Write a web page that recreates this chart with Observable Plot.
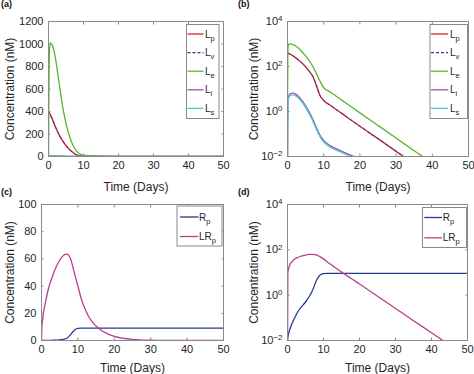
<!DOCTYPE html>
<html>
<head>
<meta charset="utf-8">
<script src="https://cdn.jsdelivr.net/npm/d3@7"></script>
<script src="https://cdn.jsdelivr.net/npm/@observablehq/plot@0.6"></script>
<style>
  body { margin: 0; background: #fff; }
  #fig { position: relative; width: 474px; height: 374px; overflow: hidden;
         font-family: "Liberation Sans", Arial, sans-serif; color: #262626; }
  .panel { position: absolute; }
  .panel svg { display: block; }
</style>
</head>
<body>
<div id="fig"></div>
<script>
// ---- tick values ----
const dayTicks = [0, 10, 20, 30, 40, 50];
const ligandLinTicks = [0, 200, 400, 600, 800, 1000, 1200];
const receptorLinTicks = [0, 20, 40, 60, 80, 100];
const logTicks = [1e-2, 1, 1e2, 1e4];

// ---- ligand concentrations (nM) over time (days) ----
const tLig = [0, 0.1, 0.3, 0.6, 1, 1.5, 2, 3, 4, 5, 6, 7, 8, 9, 10, 12, 15, 20, 25, 30, 35, 40, 45, 50];
const Lp = [400, 395, 385, 365, 340, 300, 262, 195, 142, 98, 62, 36, 14, 5.0, 3.1, 1.8, 0.82, 0.22, 0.062, 0.017, 0.0047, 0.0013, 0.00036, 0.0001];
const Lv = [400, 395, 385, 365, 340, 300, 262, 195, 142, 98, 62, 36, 14, 5.0, 3.1, 1.8, 0.82, 0.22, 0.062, 0.017, 0.0047, 0.0013, 0.00036, 0.0001];
const Le = [0.5, 500, 950, 1010, 995, 950, 870, 660, 450, 295, 180, 100, 48, 22, 11.5, 7.0, 3.2, 0.87, 0.24, 0.066, 0.018, 0.005, 0.0014, 0.0004];
const Li = [0.001, 2.5, 4.5, 5.8, 6.4, 6.5, 6.2, 4.8, 3.1, 1.8, 0.95, 0.45, 0.19, 0.088, 0.052, 0.029, 0.017, 0.0078, 0.004, 0.002, 0.001, 0.0005, 0.00025, 0.00012];
const Ls = [0.001, 2.1, 3.8, 4.9, 5.4, 5.5, 5.2, 4.0, 2.6, 1.5, 0.78, 0.37, 0.16, 0.074, 0.044, 0.025, 0.015, 0.0068, 0.0035, 0.0018, 0.0009, 0.00045, 0.00022, 0.0001];

// ---- receptor / complex concentrations (nM) ----
const tRec = [0, 0.1, 0.3, 0.7, 1, 2, 3, 4, 5, 6, 7, 8, 9, 10, 11, 12, 13, 14, 16, 18, 20, 25, 30, 35, 40, 45, 50];
const Rp = [0.01, 0.014, 0.02, 0.033, 0.045, 0.1, 0.2, 0.32, 0.5, 0.85, 1.7, 4.3, 7.6, 8.9, 9.1, 9.1, 9.1, 9.1, 9.1, 9.1, 9.1, 9.1, 9.1, 9.1, 9.1, 9.1, 9.1];
const LRp = [0.001, 10, 15, 23, 27, 39, 47, 54, 59, 62.5, 63.5, 60, 50, 40, 30, 23, 17.5, 13.5, 8.2, 5.0, 3.1, 0.9, 0.26, 0.075, 0.022, 0.0064, 0.0019];

const ligandSeries = [
  {name: "L", sub: "p", t: tLig, v: Lp, color: "#d8262b", width: 1.4},
  {name: "L", sub: "v", t: tLig, v: Lv, color: "#2b3a8f", width: 1, dash: "2.5,3"},
  {name: "L", sub: "e", t: tLig, v: Le, color: "#5ab52c", width: 1.3},
  {name: "L", sub: "i", t: tLig, v: Li, color: "#a34fae", width: 1.3},
  {name: "L", sub: "s", t: tLig, v: Ls, color: "#48cccc", width: 1.3}
];
const receptorSeries = [
  {name: "R", sub: "p", t: tRec, v: Rp, color: "#243a91", width: 1.3},
  {name: "LR", sub: "p", t: tRec, v: LRp, color: "#b83e8e", width: 1.3}
];

const FRAME = "#8a8a8a";
const TICK = 2.5;

function panel({left, top, series, log, yMax, yTicks, m, xLabelDy, yLabelDx}) {
  const rowsOf = s => s.t.map((t, i) => ({t, v: s.v[i]}));
  const yScale = log
    ? {type: "log", domain: [1e-2, 1e4], ticks: logTicks}
    : {domain: [0, yMax], ticks: yTicks};
  const fmtY = log ? (d => "10^" + Math.round(Math.log10(d))) : (d => String(d));
  const chart = Plot.plot({
    width: 237, height: 187,
    marginLeft: m[0], marginRight: m[1], marginTop: m[2], marginBottom: m[3],
    style: {background: "transparent", overflow: "visible",
            fontFamily: "'Liberation Sans', Arial, sans-serif", fontSize: "11px", color: "#262626"},
    x: {domain: [0, 50], ticks: dayTicks},
    y: yScale,
    marks: [
      ...series.map(s => Plot.line(rowsOf(s), {
        x: "t", y: "v", stroke: s.color, strokeWidth: s.width,
        strokeDasharray: s.dash, curve: "monotone-x", clip: true
      })),
      Plot.frame({stroke: FRAME}),
      Plot.axisX({ticks: dayTicks, tickSize: -TICK, tickPadding: 5 + TICK, stroke: FRAME,
                  tickFormat: d => String(d), label: null}),
      Plot.axisX({anchor: "top", ticks: dayTicks, tickSize: -TICK, stroke: FRAME,
                  tickFormat: () => "", label: null}),
      Plot.axisY({ticks: log ? logTicks : yTicks, tickSize: -TICK, tickPadding: 5 + TICK,
                  stroke: FRAME, tickFormat: fmtY, label: null}),
      Plot.axisY({anchor: "right", ticks: log ? logTicks : yTicks, tickSize: -TICK, stroke: FRAME,
                  tickFormat: () => "", label: null}),
      Plot.text(["Time (Days)"], {frameAnchor: "bottom", dy: xLabelDy, lineAnchor: "bottom",
                                  textAnchor: "middle", fontSize: 12, fill: "#262626"}),
      Plot.text(["Concentration (nM)"], {frameAnchor: "left", rotate: -90, dx: -yLabelDx,
                                         lineAnchor: "top", textAnchor: "middle",
                                         fontSize: 12, fill: "#262626"})
    ]
  });
  // power-of-ten labels with raised exponents
  if (log) {
    chart.querySelectorAll('g[aria-label="y-axis tick label"] text').forEach(el => {
      const s = el.textContent;
      if (!s.includes("^")) return;
      const [base, exp] = s.split("^");
      el.textContent = base;
      const ts = document.createElementNS("http://www.w3.org/2000/svg", "tspan");
      ts.setAttribute("dy", "-0.45em");
      ts.setAttribute("font-size", "8px");
      ts.textContent = exp.replace("-", "\u2212");
      el.appendChild(ts);
    });
  }
  const div = document.createElement("div");
  div.className = "panel";
  div.style.left = left + "px";
  div.style.top = top + "px";
  div.appendChild(chart);
  document.getElementById("fig").appendChild(div);
}

panel({left: 0, top: 0, series: ligandSeries, log: false, yMax: 1200, yTicks: ligandLinTicks,
       m: [48, 14, 21, 31], xLabelDy: 34, yLabelDx: 43});
panel({left: 237, top: 0, series: ligandSeries, log: true,
       m: [50, 6, 21, 31], xLabelDy: 34, yLabelDx: 38});
panel({left: 0, top: 187, series: receptorSeries, log: false, yMax: 100, yTicks: receptorLinTicks,
       m: [41, 14, 17, 34], xLabelDy: 31, yLabelDx: 36});
panel({left: 237, top: 187, series: receptorSeries, log: true,
       m: [50, 7, 17, 34], xLabelDy: 31, yLabelDx: 38});

// ---- overlay: panel tags and legends ----
const over = d3.select("#fig").append("svg")
  .attr("width", 474).attr("height", 374)
  .style("position", "absolute").style("left", 0).style("top", 0)
  .style("font-family", "'Liberation Sans', Arial, sans-serif");

[["(a)", 1, 7], ["(b)", 238, 7], ["(c)", 1, 195], ["(d)", 238, 195]].forEach(([s, x, y]) =>
  over.append("text").attr("x", x).attr("y", y).attr("font-size", 9)
      .attr("font-weight", "bold").attr("fill", "#111").text(s));

function legend(series, b) {
  const g = over.append("g").attr("transform", `translate(${b.x},${b.y})`);
  g.append("rect").attr("x", 0.5).attr("y", 0.5).attr("width", b.w - 1).attr("height", b.h - 1)
    .attr("fill", "#fff").attr("stroke", FRAME);
  series.forEach((s, i) => {
    const cy = b.first + i * b.step;
    g.append("line").attr("x1", b.lx).attr("x2", b.lx + b.ll).attr("y1", cy).attr("y2", cy)
      .attr("stroke", s.color).attr("stroke-width", 1.3)
      .attr("stroke-dasharray", s.dash ? "3,2" : null);
    const t = g.append("text").attr("x", b.tx).attr("y", cy + 3.5)
      .attr("font-size", 10).attr("fill", "#262626").text(s.name);
    t.append("tspan").attr("dy", 3).attr("font-size", 7.5).text(s.sub);
  });
}

legend(ligandSeries, {x: 186, y: 24, w: 33.5, h: 95, first: 10, step: 18.6, lx: 1.5, ll: 16, tx: 19});
legend(ligandSeries, {x: 429.5, y: 24, w: 38.5, h: 95, first: 10, step: 18.6, lx: 1.5, ll: 17, tx: 20.5});
legend(receptorSeries, {x: 176.5, y: 205.5, w: 46, h: 41, first: 11.5, step: 19.5, lx: 3.5, ll: 18.5, tx: 22.5});
legend(receptorSeries, {x: 422, y: 207, w: 45, h: 41, first: 10.5, step: 20.3, lx: 2.3, ll: 17.7, tx: 20.7});
</script>
</body>
</html>
